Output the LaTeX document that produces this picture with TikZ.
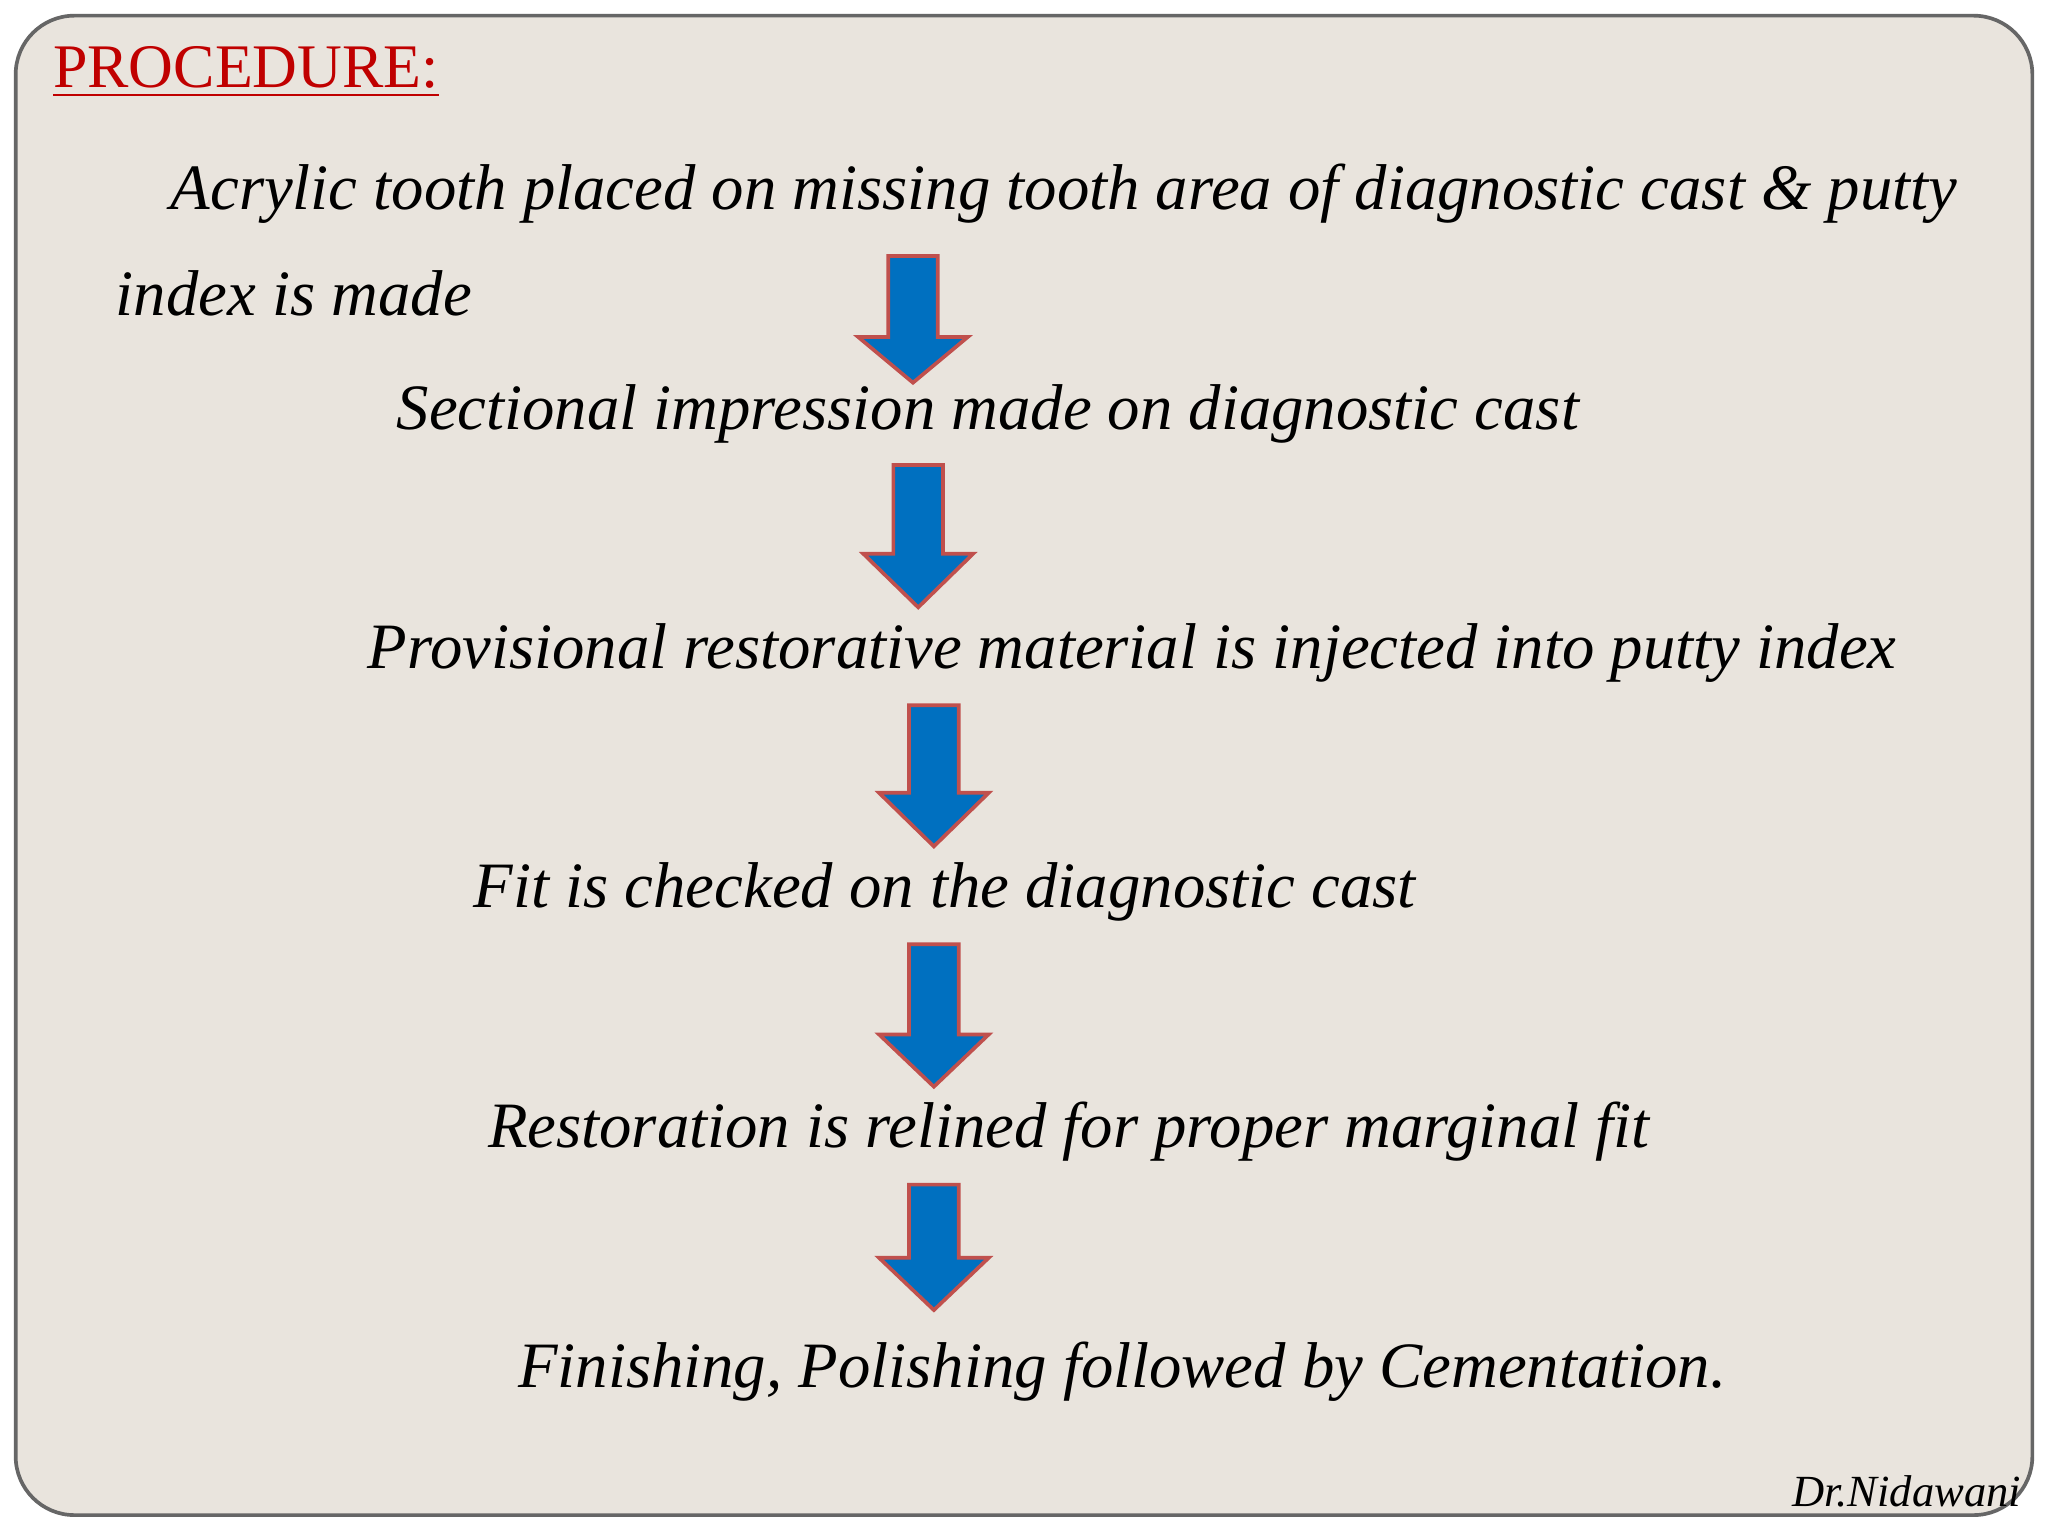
\documentclass[tikz,border=0pt]{standalone}
\usepackage{fontspec}
\setmainfont{Liberation Serif}
\definecolor{bg}{HTML}{E9E4DD}
\definecolor{arrblue}{HTML}{0070C0}
\definecolor{arredge}{HTML}{C0504D}
\definecolor{titlered}{HTML}{C00000}
\tikzset{
 txt/.style={anchor=west,inner sep=0pt,font=\itshape\fontsize{14.1}{17}\selectfont},
 downarrow/.style={fill=arrblue,draw=arredge,line width=0.8pt}
}
\newcommand{\dnarrow}[4]{% x, top, base, tip (px)
 \draw[downarrow] ({(#1-19)/100},{-#2/100}) -- ({(#1+19)/100},{-#2/100}) -- ({(#1+19)/100},{-#3/100}) -- ({(#1+42)/100},{-#3/100}) -- ({#1/100},{-#4/100}) -- ({(#1-42)/100},{-#3/100}) -- ({(#1-19)/100},{-#3/100}) -- cycle;}
\begin{document}
\begin{tikzpicture}
\useasboundingbox (0,0) rectangle (15.68,-11.76);
\fill[white] (0,0) rectangle (15.68,-11.76);
\draw[fill=bg,draw=black!60,line width=0.8pt,rounded corners=0.45cm] (0.12,-0.12) rectangle (15.56,-11.6);
\node[anchor=west,inner sep=0pt,text=titlered,font=\fontsize{13.5}{16}\selectfont] (title) at (0.40,-0.55) {\underline{PROCEDURE:}};
\node[txt] (s1a) at (1.30,-1.48) {Acrylic tooth placed on missing tooth area of diagnostic cast \& putty};
\node[txt] (s1b) at (0.88,-2.25) {index is made};
\node[txt] (s2) at (3.03,-3.17) {Sectional impression made on diagnostic cast};
\node[txt] (s3) at (2.81,-5.00) {Provisional restorative material is injected into putty index};
\node[txt] (s4) at (3.62,-6.83) {Fit is checked on the diagnostic cast};
\node[txt] (s5) at (3.73,-8.66) {Restoration is relined for proper marginal fit};
\node[txt] (s6) at (3.96,-10.50) {Finishing, Polishing followed by Cementation.};
\node[anchor=east,inner sep=0pt,font=\itshape\fontsize{9.7}{11}\selectfont] (sig) at (15.48,-11.42) {Dr.Nidawani};
\dnarrow{699}{196}{258}{293}
\dnarrow{703}{356}{424}{465}
\dnarrow{715}{540}{607}{648}
\dnarrow{715}{723}{792}{832}
\dnarrow{715}{907}{963}{1003}
\end{tikzpicture}
\end{document}
